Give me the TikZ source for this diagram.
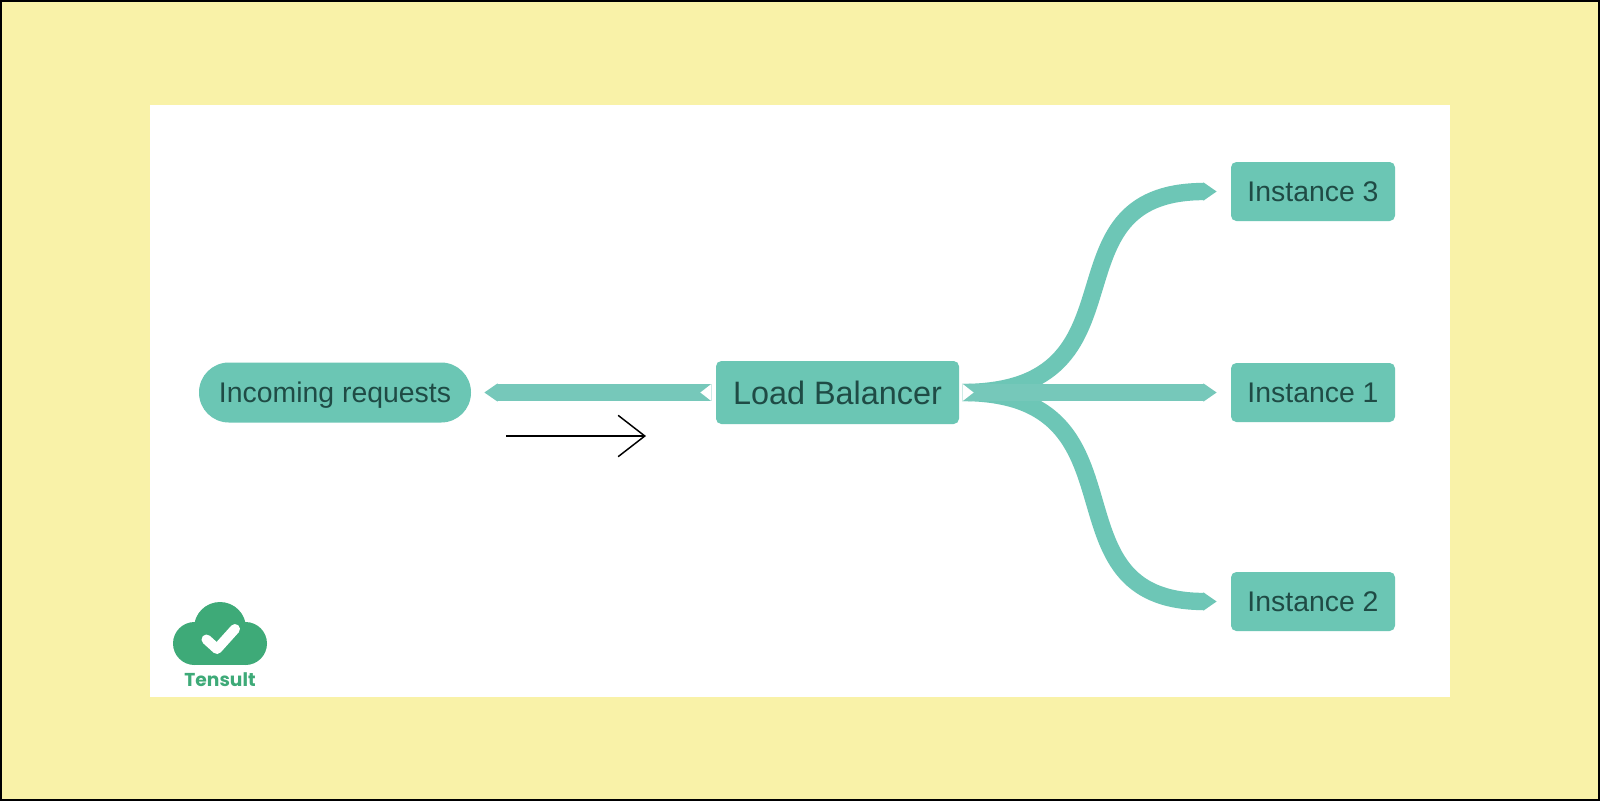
\documentclass[tikz,border=0pt]{standalone}
\usepackage{fontspec}
\setmainfont{Liberation Sans}
\newfontfamily\logofont{Poppins}
\usetikzlibrary{arrows.meta,positioning}
\definecolor{paper}{HTML}{F9F2A8}
\definecolor{boxfill}{HTML}{6BC6B4}
\definecolor{boxtext}{HTML}{1F4B45}
\definecolor{bandcurve}{HTML}{6DC6B6}
\definecolor{bandmid}{HTML}{76C8BA}
\definecolor{logogreen}{HTML}{3EAA78}
\tikzset{
instance/.style={fill=boxfill, text=boxtext, rounded corners=4pt, minimum width=123pt, minimum height=44.25pt, inner sep=0pt, text height=15.3pt, text depth=0pt, font=\fontsize{21.3pt}{24pt}\selectfont},
balancer/.style={instance, minimum width=182.25pt, minimum height=47.25pt, text height=17.5pt, font=\fontsize{24.3pt}{28pt}\selectfont},
incoming/.style={instance, minimum width=204pt, minimum height=45pt, rounded corners=22.4pt},
ribbon/.style={line width=13pt, -{Triangle[length=10pt,width=13pt]}},
notch/.pic={
  \fill[white] (0,6.6pt) -- (8.5pt,0) -- (0,-6.6pt) -- cycle;
  },
cloud/.pic={
  \fill[logogreen] (0,0) circle [radius=26];
  \fill[logogreen] (-25.5,15.5) circle [radius=21.5];
  \fill[logogreen] (25.5,15.5) circle [radius=21.5];
  \fill[logogreen] (-25.5,0) rectangle (25.5,37);
  \draw[white, line width=7.5pt, line cap=round, line join=round] (-13.5,11.5) -- (-3,21) -- (15,1);
  }
}
\begin{document}
\begin{tikzpicture}[x=0.75pt,y=-0.75pt]
\useasboundingbox (0,0) rectangle (1600,801);
\fill[paper] (0,0) rectangle (1600,801);
\draw[black, line width=1.5pt] (1,1) rectangle (1599,800);
\fill[white] (150,105) rectangle (1450,697);

\node[incoming] (requests) at (335,392.5) {Incoming requests};
\node[balancer] (lb) at (837.5,392.5) {Load Balancer};
\node[instance] (inst3) at (1313,191.5) {Instance 3};
\node[instance] (inst1) at (1313,392.5) {Instance 1};
\node[instance] (inst2) at (1313,601.5) {Instance 2};

\coordinate (fork) at ([xshift=2.25pt]lb.east);
\coordinate (tip3) at ([xshift=-10.5pt]inst3.west);
\coordinate (tip1) at ([xshift=-10.5pt]inst1.west);
\coordinate (tip2) at ([xshift=-10.5pt]inst2.west);
\coordinate (intake) at ([xshift=-3pt]lb.west);
\coordinate (tip0) at ([xshift=9.75pt]requests.east);

\draw[ribbon, bandcurve] (fork) .. controls +(145pt,0) and +(-135pt,0) .. (tip3);
\draw[ribbon, bandcurve] (fork) .. controls +(145pt,0) and +(-135pt,0) .. (tip2);
\draw[ribbon, bandmid] (fork) -- (tip1);
\draw[ribbon, bandmid] (intake) -- (tip0);
\pic at (fork) {notch};
\pic[xscale=-1] at (intake) {notch};

% flow direction
\coordinate (flowa) at (506,436);
\coordinate (flowb) at (646,436);
\draw[line width=1.1pt, -{Straight Barb[length=20pt,width=31pt,line width=1.1pt]}] (flowa) -- (flowb);

% logo
\pic at (220,628) {cloud};
\node[text=logogreen, inner sep=0pt, font=\logofont\bfseries\fontsize{14pt}{16pt}\selectfont] (brand) at (220,680) {Tensult};
\end{tikzpicture}
\end{document}
